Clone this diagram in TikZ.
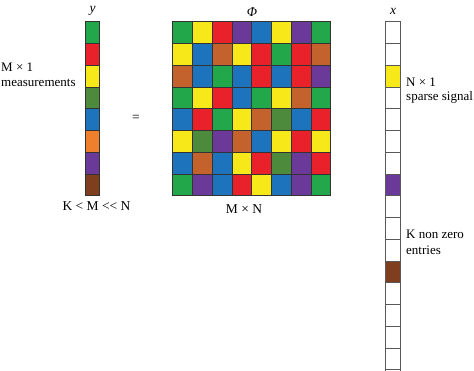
\documentclass[tikz,border=0pt]{standalone}
\usepackage{fontspec}
\setmainfont{Liberation Serif}
\definecolor{cG}{HTML}{22A84A}
\definecolor{cY}{HTML}{F7E81A}
\definecolor{cR}{HTML}{E8212B}
\definecolor{cP}{HTML}{6B3A98}
\definecolor{cB}{HTML}{1E74BC}
\definecolor{cO}{HTML}{C4622D}
\definecolor{cD}{HTML}{4E8A3C}
\definecolor{cOr}{HTML}{EE7F2D}
\definecolor{cBr}{HTML}{7F3F1E}
\definecolor{cW}{HTML}{FFFFFF}
\begin{document}
\begin{tikzpicture}[x=1pt,y=-1pt,
  cell/.style={draw=black!80, line width=0.7pt},
  xcell/.style={draw=black!65, line width=0.8pt},
  lbl/.style={font=\fontsize{13}{15}\selectfont, inner sep=0pt, anchor=base west},
  clbl/.style={font=\fontsize{13.5}{15}\selectfont, inner sep=0pt, anchor=base}]
\useasboundingbox (0,0) rectangle (474,370);
\fill[white] (0,0) rectangle (474,370);
\begin{scope}
\clip (0,0) rectangle (474,370);
% y vector
\foreach \c [count=\i from 0] in {cG,cR,cY,cD,cB,cOr,cP,cBr}{
  \path[cell, fill=\c] (85,{21.7+21.75*\i}) rectangle (99.3,{21.7+21.75*(\i+1)});
}
% Phi matrix
\foreach \row [count=\r from 0] in {
  {cG,cY,cR,cP,cB,cY,cP,cG},
  {cY,cB,cO,cY,cR,cG,cR,cO},
  {cO,cB,cG,cB,cR,cB,cR,cP},
  {cG,cY,cR,cB,cG,cY,cO,cG},
  {cB,cR,cG,cY,cO,cD,cB,cR},
  {cY,cD,cP,cO,cB,cY,cR,cY},
  {cB,cO,cB,cY,cR,cD,cP,cR},
  {cG,cP,cB,cR,cY,cB,cP,cG}}{
  \foreach \c [count=\k from 0] in \row {
    \path[cell, fill=\c] ({172.7+19.75*\k},{21.7+21.75*\r}) rectangle ({172.7+19.75*(\k+1)},{21.7+21.75*(\r+1)});
  }
}
% x vector
\foreach \c [count=\i from 0] in {cW,cW,cY,cW,cW,cW,cW,cP,cW,cW,cW,cBr,cW,cW,cW,cW,cW}{
  \path[xcell, fill=\c] (385.7,{21.7+21.75*\i}) rectangle (400,{21.7+21.75*(\i+1)});
}
\end{scope}
% labels
\node[clbl, font=\fontsize{13.5}{15}\selectfont\itshape] (ylab) at (92.5,12.5) {y};
\node[clbl, font=\fontsize{13.5}{15}\selectfont\itshape] (philab) at (252,16) {Φ};
\node[clbl, font=\fontsize{13.5}{15}\selectfont\itshape] (xlab) at (393,14.5) {x};
\node[lbl] (m1) at (1,71.5) {M × 1};
\node[lbl] (meas) at (1,86) {measurements};
\node[clbl] (eq) at (136,121) {=};
\node[clbl] (kmn) at (96.5,210) {K < M <{}< N};
\node[clbl] (mn) at (244,213.5) {M × N};
\node[lbl] (n1) at (406,86.5) {N × 1};
\node[lbl] (sp) at (406,100.5) {sparse signal};
\node[lbl] (knz) at (406,238.5) {K non zero};
\node[lbl] (ent) at (406,254) {entries};
\end{tikzpicture}
\end{document}
